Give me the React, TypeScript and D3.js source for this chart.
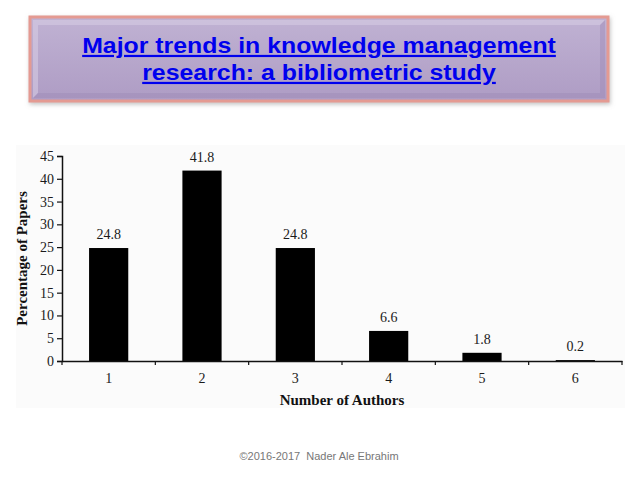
import React, { useEffect, useRef } from 'react';
import * as d3 from 'd3';

const authors = ['1', '2', '3', '4', '5', '6'];
const percentages = [24.8, 41.8, 24.8, 6.6, 1.8, 0.2];
const yTicks = [0, 5, 10, 15, 20, 25, 30, 35, 40, 45];
const titleLines = ['Major trends in knowledge management', 'research: a bibliometric study'];
const footer = '©2016-2017  Nader Ale Ebrahim';

const App: React.FC = () => {
  const ref = useRef<SVGSVGElement | null>(null);

  useEffect(() => {
    if (!ref.current) return;
    const svg = d3.select(ref.current);
    svg.selectAll('*').remove();

    const W = 638;

    // Title box
    const defs = svg.append('defs');
    const grad = defs.append('linearGradient').attr('id', 'boxFill').attr('x1', 0).attr('y1', 0).attr('x2', 0).attr('y2', 1);
    grad.append('stop').attr('offset', '0%').attr('stop-color', '#c0b2d3');
    grad.append('stop').attr('offset', '100%').attr('stop-color', '#ae9cc4');
    const shadow = defs.append('filter').attr('id', 'shadow').attr('x', '-5%').attr('y', '-20%').attr('width', '110%').attr('height', '140%');
    shadow.append('feDropShadow').attr('dx', 1).attr('dy', 2).attr('stdDeviation', 2).attr('flood-color', '#888').attr('flood-opacity', 0.5);

    svg.append('rect')
      .attr('x', 30).attr('y', 17).attr('width', 578).attr('height', 84)
      .attr('fill', 'url(#boxFill)')
      .attr('stroke', '#e49a92').attr('stroke-width', 3)
      .attr('filter', 'url(#shadow)');
    // bevel: light top/left, darker bottom/right
    svg.append('path')
      .attr('d', 'M33,98 L38,93 L38,25 L600,25 L605,20 L33,20 Z')
      .attr('fill', '#d6cce3').attr('opacity', 0.6);
    svg.append('path')
      .attr('d', 'M33,98 L38,93 L600,93 L600,25 L605,20 L605,98 Z')
      .attr('fill', '#9d8ab5').attr('opacity', 0.45);

    const titleG = svg.append('g').attr('transform', `translate(${W / 2},0) scale(1.13,1)`);
    titleLines.forEach((t, i) => {
      titleG.append('text')
        .attr('x', 0).attr('y', 53 + i * 27)
        .attr('text-anchor', 'middle')
        .attr('font-family', 'Liberation Sans, Arial, sans-serif')
        .attr('font-weight', 'bold')
        .attr('font-size', 22)
        .attr('fill', '#0000ee')
        .attr('text-decoration', 'underline')
        .text(t);
    });

    // Chart panel
    svg.append('rect')
      .attr('x', 16).attr('y', 145).attr('width', 609).attr('height', 263)
      .attr('fill', '#fbfbfb');

    const left = 62, right = 622, top = 156, bottom = 361;
    const x = d3.scaleBand().domain(authors).range([left, right]).paddingInner(0.58).paddingOuter(0.29);
    const xb = d3.scaleBand().domain(authors).range([left, right]);
    const y = d3.scaleLinear().domain([0, 45]).range([bottom, top]);

    const serif = 'Liberation Serif, Times New Roman, serif';
    const g = svg.append('g');

    g.selectAll('rect.bar')
      .data(percentages)
      .enter()
      .append('rect')
      .attr('class', 'bar')
      .attr('x', (_, i) => x(authors[i]) as number)
      .attr('y', d => y(d))
      .attr('width', x.bandwidth())
      .attr('height', d => bottom - y(d))
      .attr('fill', '#000');

    g.selectAll('text.val')
      .data(percentages)
      .enter()
      .append('text')
      .attr('x', (_, i) => (x(authors[i]) as number) + x.bandwidth() / 2)
      .attr('y', d => y(d) - 9)
      .attr('text-anchor', 'middle')
      .attr('font-family', serif)
      .attr('font-size', 14)
      .attr('fill', '#1a1a1a')
      .text(d => d.toFixed(1));

    // Y axis
    const yAxis = g.append('g')
      .attr('transform', `translate(${left},0)`)
      .call(d3.axisLeft(y).tickValues(yTicks).tickSize(5).tickPadding(3));
    yAxis.select('.domain').attr('stroke', '#111').attr('stroke-width', 1.5);
    yAxis.selectAll('.tick line').attr('stroke', '#111').attr('stroke-width', 1.2);
    yAxis.selectAll('.tick text').attr('font-family', serif).attr('font-size', 14).attr('fill', '#1a1a1a');

    // X axis
    const xAxis = g.append('g')
      .attr('transform', `translate(0,${bottom})`)
      .call(d3.axisBottom(xb).tickSize(0).tickPadding(12).tickSizeOuter(0));
    xAxis.select('.domain').attr('stroke', '#111').attr('stroke-width', 1.5);
    xAxis.selectAll('.tick text').attr('font-family', serif).attr('font-size', 14).attr('fill', '#1a1a1a');
    xAxis.selectAll('line.sep')
      .data(d3.range(authors.length + 1))
      .enter()
      .append('line')
      .attr('class', 'sep')
      .attr('x1', i => left + i * xb.step())
      .attr('x2', i => left + i * xb.step())
      .attr('y1', 0).attr('y2', 4)
      .attr('stroke', '#111').attr('stroke-width', 1.2);

    svg.append('text')
      .attr('x', (left + right) / 2).attr('y', 405)
      .attr('text-anchor', 'middle')
      .attr('font-family', serif).attr('font-weight', 'bold').attr('font-size', 15)
      .attr('fill', '#111')
      .text('Number of Authors');

    svg.append('text')
      .attr('transform', `translate(27,${(top + bottom) / 2}) rotate(-90)`)
      .attr('text-anchor', 'middle')
      .attr('font-family', serif).attr('font-weight', 'bold').attr('font-size', 15)
      .attr('fill', '#111')
      .text('Percentage of Papers');

    svg.append('text')
      .attr('x', W / 2).attr('y', 460)
      .attr('text-anchor', 'middle')
      .attr('font-family', 'Liberation Sans, Arial, sans-serif').attr('font-size', 11)
      .attr('fill', '#777')
      .style('white-space', 'pre')
      .text(footer);
  }, []);

  return (
    <svg ref={ref} width={638} height={478} style={{ position: 'absolute', left: 0, top: 0, background: '#fff' }} />
  );
};

export default App;
